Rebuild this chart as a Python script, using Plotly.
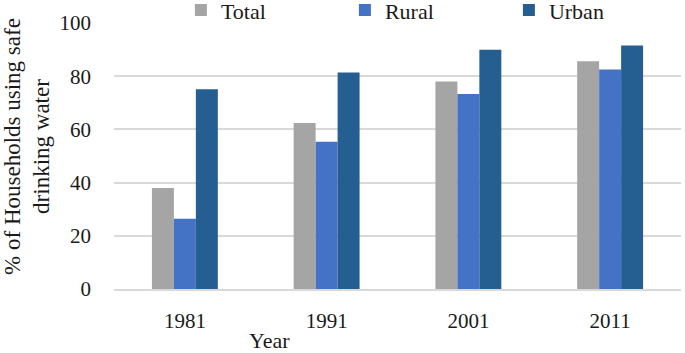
import plotly.graph_objects as go

years = ["1981", "1991", "2001", "2011"]
total = [38.0, 62.4, 78.0, 85.6]
rural = [26.4, 55.4, 73.3, 82.5]
urban = [75.1, 81.4, 89.9, 91.5]
y_ticks = [0, 20, 40, 60, 80, 100]

FONT = "Liberation Serif"

fig = go.Figure()
fig.add_bar(name="Total", x=years, y=total, marker_color="#A5A5A5")
fig.add_bar(name="Rural", x=years, y=rural, marker_color="#4472C4")
fig.add_bar(name="Urban", x=years, y=urban, marker_color="#255E91")

fig.update_traces(marker_line_width=0)

fig.update_layout(
    width=685, height=353,
    margin=dict(l=114, r=4, t=23, b=64, pad=0, autoexpand=False),
    paper_bgcolor="white", plot_bgcolor="white",
    font=dict(family=FONT, size=20, color="#1a1a1a"),
    barmode="group", bargap=0.535, bargroupgap=0,
    showlegend=True,
    legend=dict(orientation="h", x=0.118, xanchor="left", y=1.048, yanchor="middle",
                entrywidth=119, entrywidthmode="pixels",
                font=dict(size=22, family=FONT, color="#1a1a1a"), bgcolor="rgba(0,0,0,0)",
                itemclick=False),
    xaxis=dict(showgrid=False, showline=True, linecolor="#D9D9D9", linewidth=1.5,
               ticks="", ticklabelstandoff=12,
               tickfont=dict(size=21, family=FONT, color="#1a1a1a")),
    yaxis=dict(range=[0, 100], tickvals=y_ticks, showgrid=True, gridcolor="#D9D9D9",
               gridwidth=1.5, zeroline=False, showline=False, ticks="",
               ticklabelstandoff=22,
               tickfont=dict(size=21, family=FONT, color="#1a1a1a")),
)

fig.add_annotation(text="Year", xref="x", yref="paper", x=0.6, y=-0.192,
                   xanchor="center", yanchor="middle", showarrow=False,
                   font=dict(size=22, family=FONT, color="#1a1a1a"))
fig.add_annotation(text="% of Households using safe<br>drinking water", xref="paper", yref="paper",
                   x=-0.153, y=0.535, xanchor="center", yanchor="middle", textangle=-90,
                   showarrow=False, font=dict(size=23, family=FONT, color="#1a1a1a"))

fig.write_html("out.html", config={"displayModeBar": False},
               post_script="document.body.style.margin='0';")
